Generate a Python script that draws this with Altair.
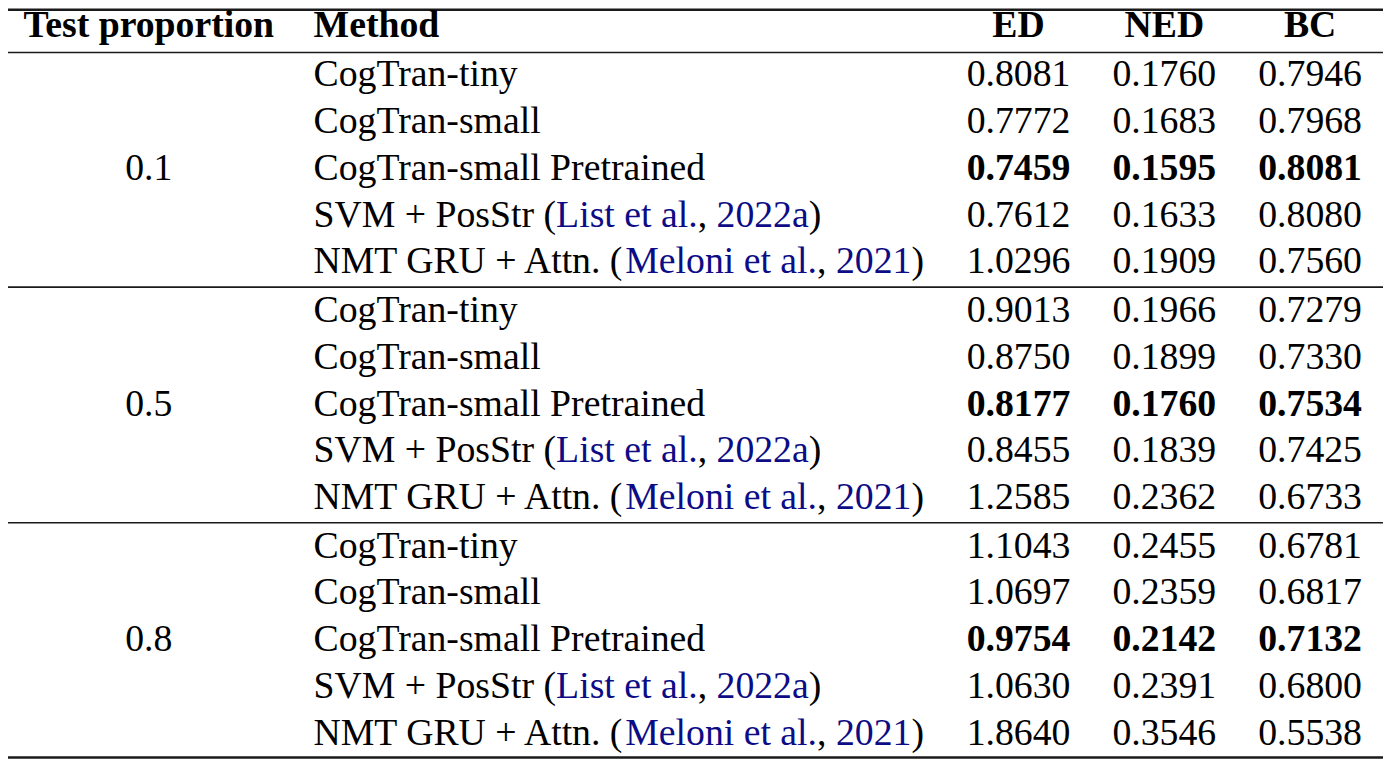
import altair as alt
import pandas as pd

# ---------------- data ----------------
headers = ["Test proportion", "Method", "ED", "NED", "BC"]
proportions = ["0.1", "0.5", "0.8"]
methods = ["CogTran-tiny", "CogTran-small", "CogTran-small Pretrained",
           "SVM + PosStr", "NMT GRU + Attn."]
cite_authors = [None, None, None, "List et al.", "Meloni et al."]
cite_years = [None, None, None, "2022a", "2021"]

ed = [[0.8081, 0.7772, 0.7459, 0.7612, 1.0296],
      [0.9013, 0.8750, 0.8177, 0.8455, 1.2585],
      [1.1043, 1.0697, 0.9754, 1.0630, 1.8640]]
ned = [[0.1760, 0.1683, 0.1595, 0.1633, 0.1909],
       [0.1966, 0.1899, 0.1760, 0.1839, 0.2362],
       [0.2455, 0.2359, 0.2142, 0.2391, 0.3546]]
bc = [[0.7946, 0.7968, 0.8081, 0.8080, 0.7560],
      [0.7279, 0.7330, 0.7534, 0.7425, 0.6733],
      [0.6781, 0.6817, 0.7132, 0.6800, 0.5538]]
metrics = {"ED": (ed, "min"), "NED": (ned, "min"), "BC": (bc, "max")}

# ---------------- layout / style ----------------
W, H = 1377, 755
X0, Y0 = 8, 8
FONT = "Liberation Serif"
FS = 37.8
BLACK = "#000000"
BLUE = "#0c0c86"
X_PROP = 149
X_METHOD = 314
X_COLS = {"ED": 1020, "NED": 1166, "BC": 1312}
Y_HEAD = 36
Y_FIRST = 86
PITCH = 46.8
GROUP = 236
RULE_X = (0, 1385)
RULES = [(2.5, 2.4), (52, 1.6), (287, 1.6), (523, 1.6), (758, 2.4)]

# Times / Liberation Serif advance widths (em)
ADV = {" ": .25, "(": .333, ")": .333, "+": .564, ",": .25, ".": .25,
       "0": .5, "1": .5, "2": .5, "A": .722, "G": .722, "L": .611,
       "M": .889, "N": .722, "P": .556, "R": .667, "S": .556, "T": .611,
       "U": .722, "V": .722, "a": .444, "e": .444, "i": .278, "l": .278,
       "n": .5, "o": .5, "s": .389, "t": .278, "r": .333}


def tw(s):
    return sum(ADV.get(c, .5) for c in s) * FS


def row_y(g, r):
    return Y_FIRST + g * GROUP + r * PITCH


# ---------------- build tables ----------------
head_c, head_l, reg_c, bold_c, left = [], [], [], [], []
head_c.append({"x": X_PROP, "y": Y_HEAD, "t": headers[0]})
head_l.append({"x": X_METHOD, "y": Y_HEAD, "t": headers[1]})
for h in headers[2:]:
    head_c.append({"x": X_COLS[h], "y": Y_HEAD, "t": h})

for g, p in enumerate(proportions):
    reg_c.append({"x": X_PROP, "y": row_y(g, 2), "t": p})
    for r, m in enumerate(methods):
        y = row_y(g, r)
        if cite_authors[r] is None:
            left.append({"x": X_METHOD, "y": y, "t": m, "c": BLACK})
        else:
            segs = [(m + " (", BLACK), (cite_authors[r], BLUE), (", ", BLACK),
                    (cite_years[r], BLUE), (")", BLACK)]
            x = X_METHOD
            for s, c in segs:
                left.append({"x": x, "y": y, "t": s, "c": c})
                x += tw(s)
        for k, (arr, best) in metrics.items():
            vals = arr[g]
            bv = min(vals) if best == "min" else max(vals)
            rec = {"x": X_COLS[k], "y": y, "t": f"{vals[r]:.4f}"}
            (bold_c if vals[r] == bv else reg_c).append(rec)

rules = []
for y, w in RULES:
    yy = min(max(y, Y0 + w / 2), Y0 + H - w / 2)
    rules.append({"x": max(RULE_X[0], X0), "x2": RULE_X[1], "y": yy, "w": w})

xs = alt.Scale(domain=[X0, X0 + W], nice=False, zero=False)
ys = alt.Scale(domain=[Y0, Y0 + H], nice=False, zero=False, reverse=True)


def text_layer(rows, align, weight):
    df = pd.DataFrame(rows)
    if "c" not in df:
        df["c"] = BLACK
    return alt.Chart(df).mark_text(
        font=FONT, fontSize=FS, fontWeight=weight, align=align,
        baseline="alphabetic"
    ).encode(
        x=alt.X("x:Q", scale=xs, axis=None),
        y=alt.Y("y:Q", scale=ys, axis=None),
        text="t:N",
        color=alt.Color("c:N", scale=None),
    )


rule_layer = alt.Chart(pd.DataFrame(rules)).mark_rule(color="#1a1a1a").encode(
    x=alt.X("x:Q", scale=xs, axis=None),
    x2="x2:Q",
    y=alt.Y("y:Q", scale=ys, axis=None),
    size=alt.Size("w:Q", scale=None, legend=None),
)

chart = alt.layer(
    rule_layer,
    text_layer(head_c, "center", "bold"),
    text_layer(head_l, "left", "bold"),
    text_layer(reg_c, "center", "normal"),
    text_layer(bold_c, "center", "bold"),
    text_layer(left, "left", "normal"),
).properties(
    width=W, height=H, padding=0, autosize=alt.AutoSizeParams(type="none"),
    background="white",
).configure_view(stroke=None)

chart.save("out.html", embed_options={"renderer": "svg", "actions": False})
